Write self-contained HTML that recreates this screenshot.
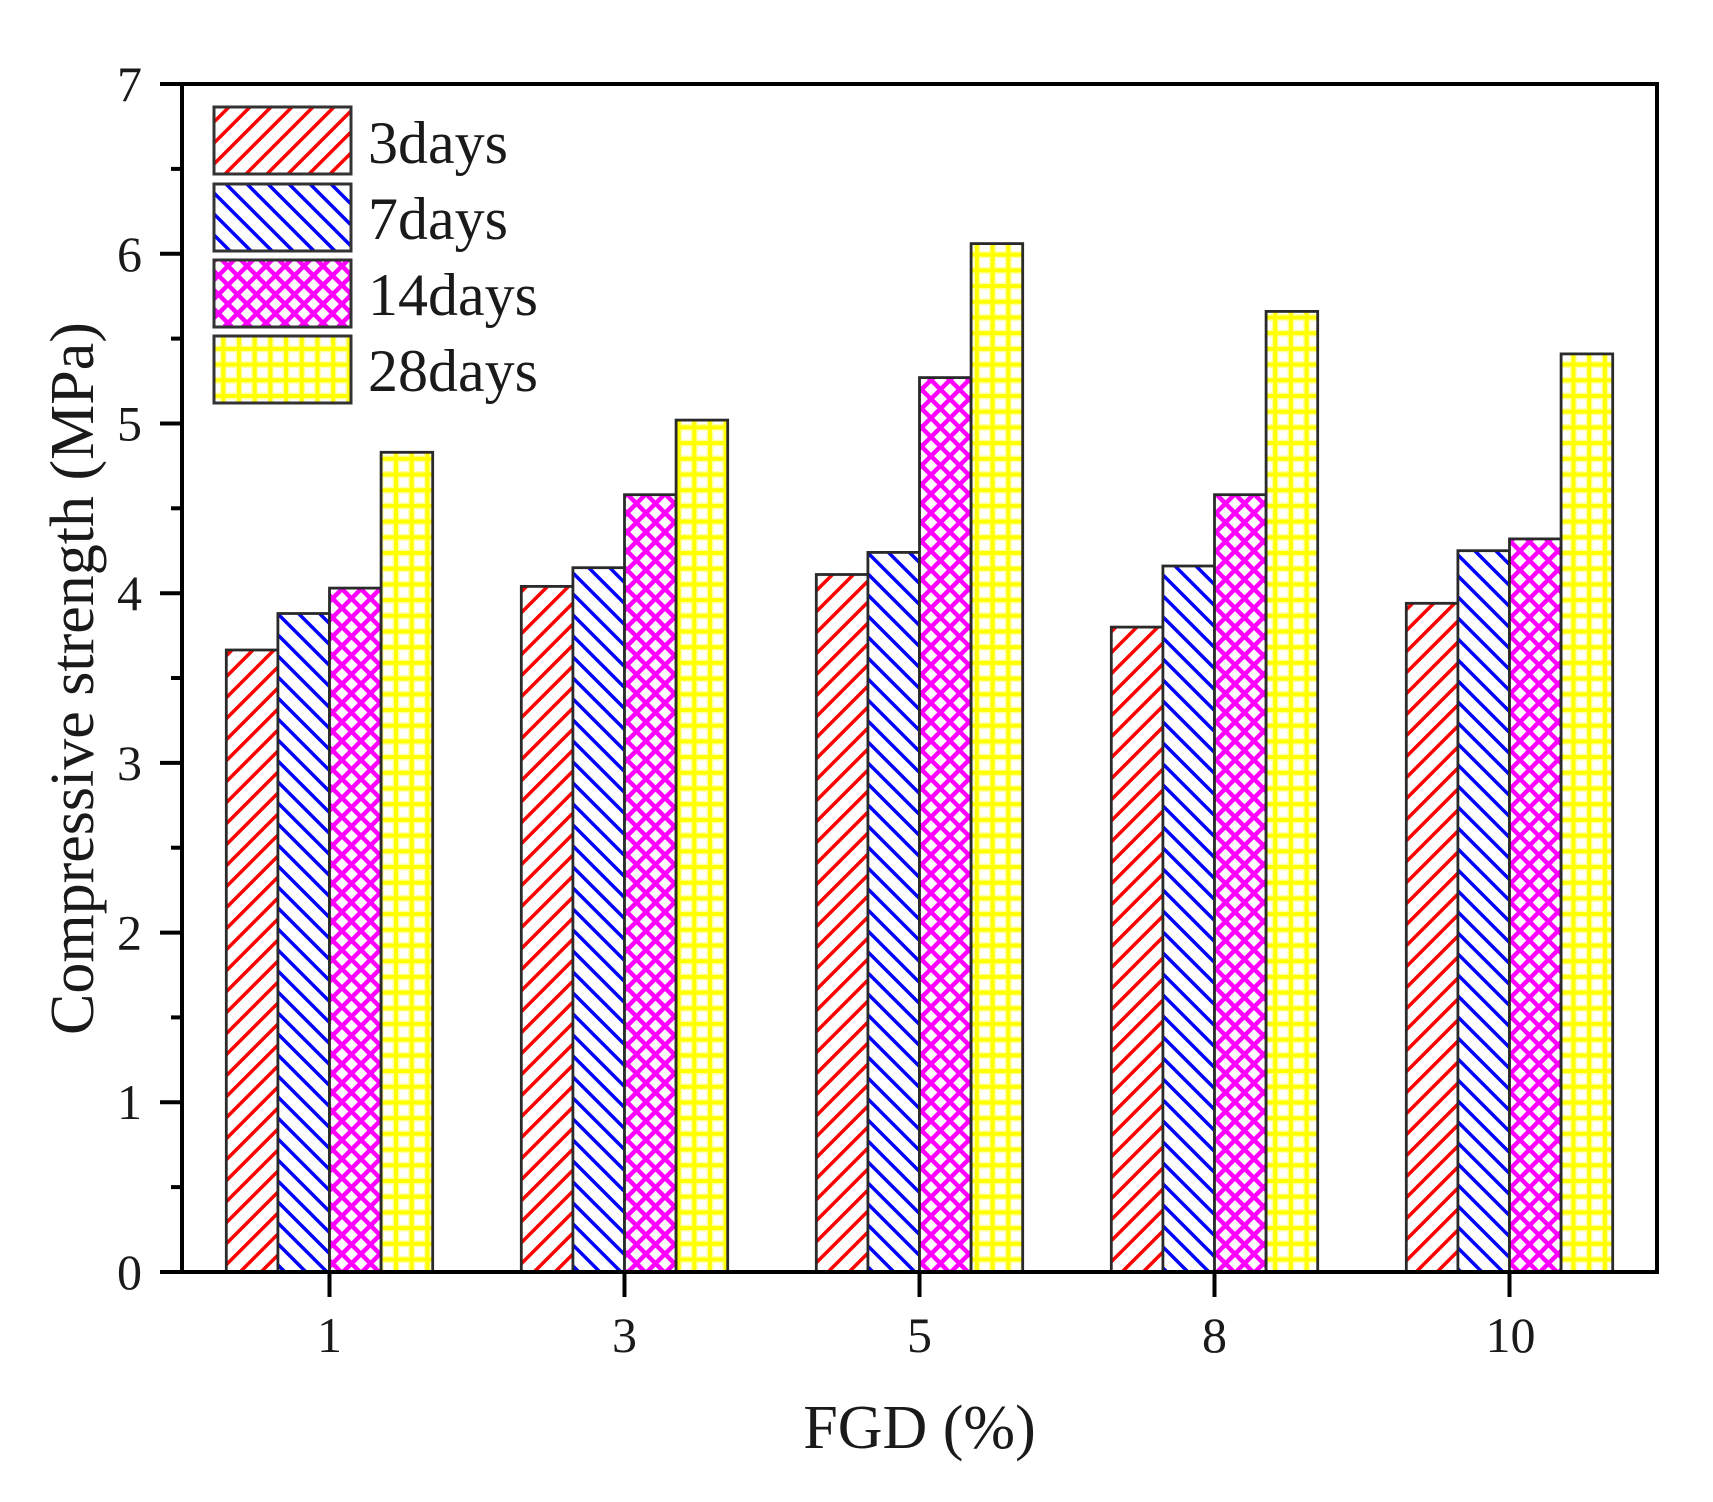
<!DOCTYPE html>
<html>
<head>
<meta charset="utf-8">
<style>
  html,body{margin:0;padding:0;background:#fff;}
  svg{display:block;}
  text{font-family:"Liberation Serif","Times New Roman",serif;fill:#1a1a1a;}
</style>
</head>
<body>
<svg width="1713" height="1502" viewBox="0 0 1713 1502" xmlns="http://www.w3.org/2000/svg">
  <defs>
    <pattern id="pRed" patternUnits="userSpaceOnUse" width="21" height="21">
      <rect width="21" height="21" fill="#fff"/>
      <path d="M-3,24 L24,-3 M-13.5,13.5 L13.5,-13.5 M7.5,34.5 L34.5,7.5" stroke="#ff0000" stroke-width="3.5"/>
    </pattern>
    <pattern id="pBlue" patternUnits="userSpaceOnUse" width="21" height="21">
      <rect width="21" height="21" fill="#fff"/>
      <path d="M-3,-3 L24,24 M-13.5,7.5 L13.5,34.5 M7.5,-13.5 L34.5,13.5" stroke="#0000ff" stroke-width="3.5"/>
    </pattern>
    <pattern id="pMag" patternUnits="userSpaceOnUse" width="19" height="19">
      <rect width="19" height="19" fill="#fff"/>
      <path d="M-3,-3 L22,22 M-3,22 L22,-3 M-12.5,6.5 L6.5,25.5 M6.5,-12.5 L25.5,6.5 M-12.5,12.5 L6.5,-6.5 M12.5,25.5 L25.5,12.5" stroke="#ff00ff" stroke-width="4.5"/>
    </pattern>
    <pattern id="pYel" patternUnits="userSpaceOnUse" width="15.7" height="15.7">
      <rect width="15.7" height="15.7" fill="#fff"/>
      <rect x="0" y="0" width="7" height="15.7" fill="#ffffa8"/>
      <rect x="0" y="0" width="15.7" height="7" fill="#ffffa8"/>
      <rect x="1.5" y="0" width="4" height="15.7" fill="#ffff00"/>
      <rect x="0" y="1.5" width="15.7" height="4" fill="#ffff00"/>
    </pattern>
  </defs>

  <!-- Bars -->
  <g stroke="#2a2a2a" stroke-width="2.8">
    <rect x="226.3" y="650.0" width="51.6" height="622.0" fill="url(#pRed)"/>
    <rect x="277.9" y="613.5" width="51.6" height="658.5" fill="url(#pBlue)"/>
    <rect x="329.5" y="588.1" width="51.6" height="683.9" fill="url(#pMag)"/>
    <rect x="381.1" y="452.3" width="51.6" height="819.7" fill="url(#pYel)"/>
    <rect x="521.3" y="586.4" width="51.6" height="685.6" fill="url(#pRed)"/>
    <rect x="572.9" y="567.7" width="51.6" height="704.3" fill="url(#pBlue)"/>
    <rect x="624.5" y="494.7" width="51.6" height="777.3" fill="url(#pMag)"/>
    <rect x="676.1" y="420.1" width="51.6" height="851.9" fill="url(#pYel)"/>
    <rect x="816.3" y="574.5" width="51.6" height="697.5" fill="url(#pRed)"/>
    <rect x="867.9" y="552.4" width="51.6" height="719.6" fill="url(#pBlue)"/>
    <rect x="919.5" y="377.6" width="51.6" height="894.4" fill="url(#pMag)"/>
    <rect x="971.1" y="243.6" width="51.6" height="1028.4" fill="url(#pYel)"/>
    <rect x="1111.3" y="627.1" width="51.6" height="644.9" fill="url(#pRed)"/>
    <rect x="1162.9" y="566.0" width="51.6" height="706.0" fill="url(#pBlue)"/>
    <rect x="1214.5" y="494.7" width="51.6" height="777.3" fill="url(#pMag)"/>
    <rect x="1266.1" y="311.4" width="51.6" height="960.6" fill="url(#pYel)"/>
    <rect x="1406.3" y="603.3" width="51.6" height="668.7" fill="url(#pRed)"/>
    <rect x="1457.9" y="550.7" width="51.6" height="721.3" fill="url(#pBlue)"/>
    <rect x="1509.5" y="538.9" width="51.6" height="733.1" fill="url(#pMag)"/>
    <rect x="1561.1" y="353.9" width="51.6" height="918.1" fill="url(#pYel)"/>
  </g>

  <!-- Frame -->
  <g stroke="#000" stroke-width="4" fill="none">
    <line x1="160" y1="84" x2="1659" y2="84"/>
    <line x1="182" y1="82" x2="182" y2="1274"/>
    <line x1="1657" y1="82" x2="1657" y2="1274"/>
    <line x1="160" y1="1272" x2="1659" y2="1272"/>
  </g>

  <!-- Y ticks -->
  <g stroke="#000" stroke-width="4">
    <line x1="160" y1="1102.3" x2="182" y2="1102.3"/>
    <line x1="160" y1="932.6" x2="182" y2="932.6"/>
    <line x1="160" y1="762.9" x2="182" y2="762.9"/>
    <line x1="160" y1="593.2" x2="182" y2="593.2"/>
    <line x1="160" y1="423.5" x2="182" y2="423.5"/>
    <line x1="160" y1="253.7" x2="182" y2="253.7"/>
    <line x1="171" y1="1187.1" x2="182" y2="1187.1"/>
    <line x1="171" y1="1017.4" x2="182" y2="1017.4"/>
    <line x1="171" y1="847.7" x2="182" y2="847.7"/>
    <line x1="171" y1="678.0" x2="182" y2="678.0"/>
    <line x1="171" y1="508.3" x2="182" y2="508.3"/>
    <line x1="171" y1="338.6" x2="182" y2="338.6"/>
    <line x1="171" y1="168.9" x2="182" y2="168.9"/>
  </g>
  <!-- X ticks -->
  <g stroke="#000" stroke-width="4">
    <line x1="329.5" y1="1272" x2="329.5" y2="1297"/>
    <line x1="624.5" y1="1272" x2="624.5" y2="1297"/>
    <line x1="919.5" y1="1272" x2="919.5" y2="1297"/>
    <line x1="1214.5" y1="1272" x2="1214.5" y2="1297"/>
    <line x1="1509.5" y1="1272" x2="1509.5" y2="1297"/>
  </g>

  <!-- Y tick labels -->
  <g font-size="50" text-anchor="end">
    <text x="142" y="1289">0</text>
    <text x="142" y="1119">1</text>
    <text x="142" y="949.5">2</text>
    <text x="142" y="780">3</text>
    <text x="142" y="610">4</text>
    <text x="142" y="440.5">5</text>
    <text x="142" y="271">6</text>
    <text x="142" y="101">7</text>
  </g>

  <!-- X tick labels -->
  <g font-size="50" text-anchor="middle">
    <text x="329.5" y="1352">1</text>
    <text x="624.5" y="1352">3</text>
    <text x="919.5" y="1352">5</text>
    <text x="1214.5" y="1352">8</text>
    <text x="1510.5" y="1352">10</text>
  </g>

  <!-- Axis titles -->
  <text x="919.5" y="1448" font-size="62" text-anchor="middle">FGD (%)</text>
  <text transform="rotate(-90)" x="-678.5" y="93" font-size="62" text-anchor="middle">Compressive strength (MPa)</text>

  <!-- Legend -->
  <g stroke="#333" stroke-width="3">
    <rect x="214" y="107" width="137" height="67" fill="url(#pRed)"/>
    <rect x="214" y="184" width="137" height="67" fill="url(#pBlue)"/>
    <rect x="214" y="260" width="137" height="67" fill="url(#pMag)"/>
    <rect x="214" y="336" width="137" height="67" fill="url(#pYel)"/>
  </g>
  <g font-size="60">
    <text x="368" y="163">3days</text>
    <text x="368" y="239">7days</text>
    <text x="368" y="315">14days</text>
    <text x="368" y="391">28days</text>
  </g>
</svg>
</body>
</html>
